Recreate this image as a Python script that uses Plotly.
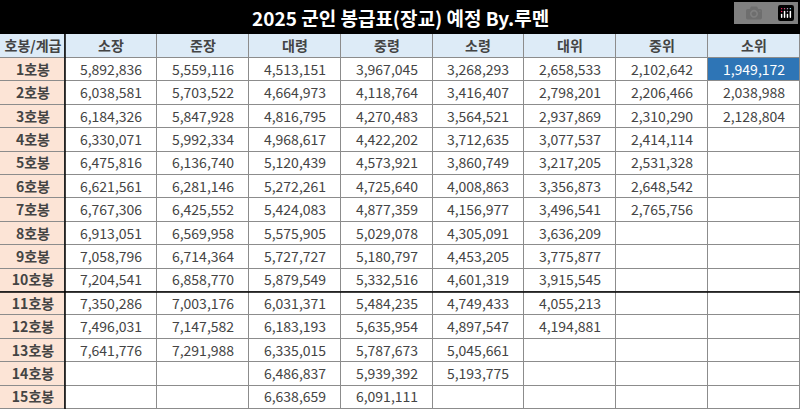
import plotly.graph_objects as go

title = "2025 군인 봉급표(장교) 예정 By.루멘"
ranks = ["소장", "준장", "대령", "중령", "소령", "대위", "중위", "소위"]
steps = [f"{i}호봉" for i in range(1, 16)]

sojang = [5892836, 6038581, 6184326, 6330071, 6475816, 6621561, 6767306, 6913051,
          7058796, 7204541, 7350286, 7496031, 7641776]
junjang = [5559116, 5703522, 5847928, 5992334, 6136740, 6281146, 6425552, 6569958,
           6714364, 6858770, 7003176, 7147582, 7291988]
daeryeong = [4513151, 4664973, 4816795, 4968617, 5120439, 5272261, 5424083, 5575905,
             5727727, 5879549, 6031371, 6183193, 6335015, 6486837, 6638659]
jungryeong = [3967045, 4118764, 4270483, 4422202, 4573921, 4725640, 4877359, 5029078,
              5180797, 5332516, 5484235, 5635954, 5787673, 5939392, 6091111]
soryeong = [3268293, 3416407, 3564521, 3712635, 3860749, 4008863, 4156977, 4305091,
            4453205, 4601319, 4749433, 4897547, 5045661, 5193775]
daewi = [2658533, 2798201, 2937869, 3077537, 3217205, 3356873, 3496541, 3636209,
         3775877, 3915545, 4055213, 4194881]
jungwi = [2102642, 2206466, 2310290, 2414114, 2531328, 2648542, 2765756]
sowi = [1949172, 2038988, 2128804]

series = [sojang, junjang, daeryeong, jungryeong, soryeong, daewi, jungwi, sowi]
n = len(steps)

# layout grid in pixels (figure is 800x409, plot area = whole figure)
W, H, TOP, HEAD = 800, 409, 34, 24
col_w = [65] + [91.875] * 8
x_edges = [0]
for w in col_w:
    x_edges.append(x_edges[-1] + w)
row_h = (H - TOP - HEAD) / n
y_edges = [TOP, TOP + HEAD] + [TOP + HEAD + row_h * (i + 1) for i in range(n)]

# text and cell-kind matrices (rows = header + steps)
text = [["<b>호봉/계급</b>"] + [f"<b>{r}</b>" for r in ranks]]
kind = [[2] * 9]
for i, s in enumerate(steps):
    row = [f"<b>{s}</b>"]
    krow = [1]
    for j, col in enumerate(series):
        row.append(f"{col[i]:,}" if i < len(col) else "")
        krow.append(3 if (i == 0 and j == 7) else 0)
    text.append(row)
    kind.append(krow)

fig = go.Figure(go.Heatmap(
    z=kind, x=x_edges, y=y_edges, text=text, texttemplate="%{text}",
    textfont=dict(family="Noto Sans CJK KR", size=14),
    colorscale=[[0, "#ffffff"], [1 / 3, "#fce4d6"], [2 / 3, "#ddebf7"], [1, "#2e75b6"]],
    zmin=0, zmax=3, showscale=False, xgap=1, ygap=1, hoverinfo="skip",
))

# title band
fig.add_shape(type="rect", x0=0, x1=W, y0=0, y1=TOP, fillcolor="black", line_width=0)
fig.add_annotation(text=f"<b>{title}</b>", x=W / 2, y=TOP / 2, showarrow=False,
                   font=dict(family="Noto Sans CJK KR", size=19, color="white"))
# heavier separators
fig.add_shape(type="line", x0=0, x1=W, y0=y_edges[11], y1=y_edges[11],
              line=dict(color="black", width=1.5))
fig.add_shape(type="line", x0=x_edges[1], x1=x_edges[1], y0=TOP, y1=H,
              line=dict(color="black", width=1.5))

fig.update_xaxes(range=[0, W], visible=False, fixedrange=True)
fig.update_yaxes(range=[H, 0], visible=False, fixedrange=True)
fig.update_layout(width=W, height=H, margin=dict(t=0, b=0, l=0, r=0),
                  paper_bgcolor="white", plot_bgcolor="#8c8c8c")

fig.write_html("out.html", post_script="document.body.style.margin='0';")
